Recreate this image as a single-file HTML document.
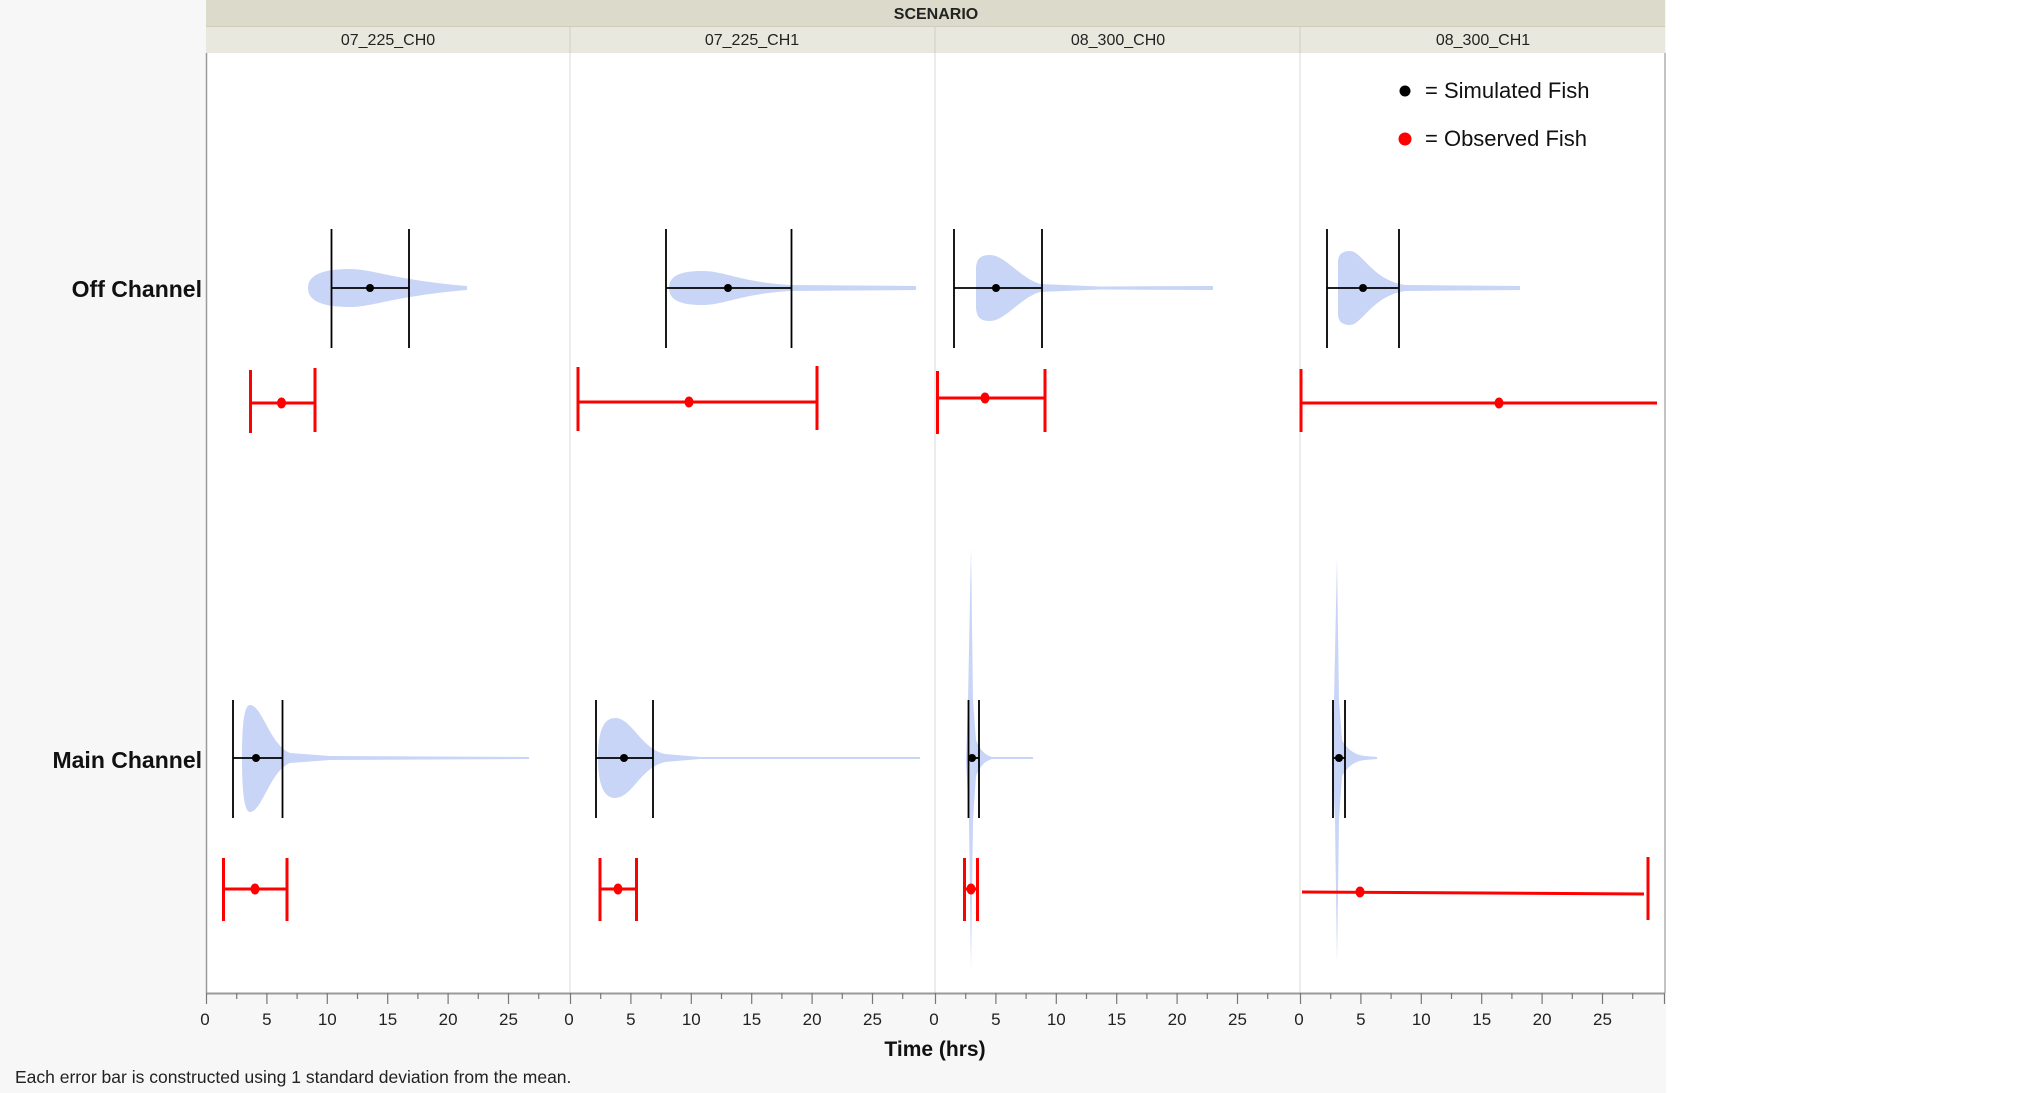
<!DOCTYPE html>
<html><head><meta charset="utf-8"><style>
html,body{margin:0;padding:0;background:#fff;}
svg{display:block;}
text{font-family:"Liberation Sans",sans-serif;}
</style></head><body>
<svg width="2029" height="1093" viewBox="0 0 2029 1093" xmlns="http://www.w3.org/2000/svg">
<rect x="0" y="0" width="1666" height="1093" fill="#f7f7f7"/>
<rect x="1666" y="0" width="363" height="1093" fill="#ffffff"/>
<rect x="206" y="0" width="1459" height="26" fill="#dcdacb"/>
<rect x="206" y="26" width="1459" height="27" fill="#e9e8de"/>
<line x1="206" y1="26.5" x2="1665" y2="26.5" stroke="#cfcdbf" stroke-width="1"/>
<line x1="570" y1="26" x2="570" y2="53" stroke="#d0cec2"/>
<line x1="935" y1="26" x2="935" y2="53" stroke="#d0cec2"/>
<line x1="1300" y1="26" x2="1300" y2="53" stroke="#d0cec2"/>
<text x="936" y="19" font-size="16" font-weight="bold" text-anchor="middle" fill="#222">SCENARIO</text>
<text x="388" y="45" font-size="16" text-anchor="middle" fill="#222">07_225_CH0</text>
<text x="752" y="45" font-size="16" text-anchor="middle" fill="#222">07_225_CH1</text>
<text x="1118" y="45" font-size="16" text-anchor="middle" fill="#222">08_300_CH0</text>
<text x="1483" y="45" font-size="16" text-anchor="middle" fill="#222">08_300_CH1</text>
<rect x="206" y="53" width="1459" height="940" fill="#ffffff"/>
<line x1="206.5" y1="53" x2="206.5" y2="993" stroke="#9a9a9a" stroke-width="1.5"/>
<line x1="1665" y1="53" x2="1665" y2="993" stroke="#b0b0b0" stroke-width="1.5"/>
<line x1="570" y1="53" x2="570" y2="993" stroke="#dadada"/>
<line x1="935" y1="53" x2="935" y2="993" stroke="#dadada"/>
<line x1="1300" y1="53" x2="1300" y2="993" stroke="#dadada"/>
<text x="202" y="297" font-size="23" font-weight="bold" text-anchor="end" fill="#111">Off Channel</text>
<text x="202" y="768" font-size="23" font-weight="bold" text-anchor="end" fill="#111">Main Channel</text>
<circle cx="1405" cy="91" r="5.5" fill="#000"/>
<text x="1425" y="98" font-size="22" fill="#111">= Simulated Fish</text>
<circle cx="1405" cy="139" r="6.5" fill="#ff0000"/>
<text x="1425" y="146" font-size="22" fill="#111">= Observed Fish</text>

<g fill="#c9d5f7">
<path d="M308,288 C308,276 320,269 350,269 C372,269 395,280 467,286 L467,290 C395,296 372,307 350,307 C320,307 308,300 308,288Z"/>
<path d="M669,288 C669,276 680,271 702,271 C725,271 740,282 790,285 L916,286 L916,290 L790,291 C740,294 725,305 702,305 C680,305 669,300 669,288Z"/>
<path d="M976,270 C976,258 981,255 990,255 C1005,255 1020,278 1040,284 L1100,286.5 L1213,286 L1213,290 L1100,289.5 L1040,292 C1020,298 1005,321 990,321 C981,321 976,318 976,306Z"/>
<path d="M1338,262 C1338,254 1343,251 1350,251 C1362,251 1372,280 1405,285 L1520,286 L1520,290 L1405,291 C1372,296 1362,325 1350,325 C1343,325 1338,322 1338,314Z"/>
<path d="M242,758 C242,725 244,705 250,705 C262,705 270,745 290,753 L330,756 L529,757 L529,759 L330,760 L290,763 C270,771 262,812 250,812 C244,812 242,790 242,758Z"/>
<path d="M598,758 C598,735 602,718 615,718 C632,718 640,748 665,754 L700,757 L920,757 L920,759 L700,759 L665,762 C640,768 632,798 615,798 C602,798 598,780 598,758Z"/>
<path d="M971,547 L973,700 L976,740 C980,750 985,755 992,757 L1033,757 L1033,759 L992,759 C985,761 980,766 976,776 L973,820 L971,971 L969,820 L966,760 L968,700Z"/>
<path d="M1337,558 L1339,700 L1342,740 C1348,750 1355,755 1365,756 L1377,757 L1377,759 L1365,760 C1355,761 1348,766 1342,776 L1339,820 L1337,963 L1335,820 L1332,760 L1334,700Z"/>
</g>

<g stroke="#000" stroke-width="1.8">
<line x1="331.5" y1="229" x2="331.5" y2="348"/><line x1="409" y1="229" x2="409" y2="348"/><line x1="331.5" y1="288" x2="409" y2="288"/>
<line x1="666" y1="229" x2="666" y2="348"/><line x1="791.5" y1="229" x2="791.5" y2="348"/><line x1="666" y1="288" x2="791.5" y2="288"/>
<line x1="954" y1="229" x2="954" y2="348"/><line x1="1042" y1="229" x2="1042" y2="348"/><line x1="954" y1="288" x2="1042" y2="288"/>
<line x1="1327" y1="229" x2="1327" y2="348"/><line x1="1399" y1="229" x2="1399" y2="348"/><line x1="1327" y1="288" x2="1399" y2="288"/>
<line x1="233" y1="700" x2="233" y2="818"/><line x1="282.5" y1="700" x2="282.5" y2="818"/><line x1="233" y1="758" x2="282.5" y2="758"/>
<line x1="596" y1="700" x2="596" y2="818"/><line x1="653" y1="700" x2="653" y2="818"/><line x1="596" y1="758" x2="653" y2="758"/>
<line x1="968.5" y1="700" x2="968.5" y2="818"/><line x1="979" y1="700" x2="979" y2="818"/><line x1="968.5" y1="758" x2="979" y2="758"/>
<line x1="1333" y1="700" x2="1333" y2="818"/><line x1="1345" y1="700" x2="1345" y2="818"/><line x1="1333" y1="758" x2="1345" y2="758"/>
</g>
<g fill="#000">
<circle cx="370" cy="288" r="4"/><circle cx="728" cy="288" r="4"/><circle cx="996" cy="288" r="4"/><circle cx="1363" cy="288" r="4"/>
<circle cx="256" cy="758" r="4"/><circle cx="624" cy="758" r="4"/><circle cx="972" cy="758" r="4"/><circle cx="1339" cy="758" r="4"/>
</g>

<g stroke="#ff0000" stroke-width="3">
<line x1="250.5" y1="370" x2="250.5" y2="433"/><line x1="315" y1="368" x2="315" y2="432"/><line x1="250.5" y1="403" x2="315" y2="403"/>
<line x1="578" y1="367" x2="578" y2="431"/><line x1="817" y1="366" x2="817" y2="430"/><line x1="578" y1="402" x2="817" y2="402"/>
<line x1="937.5" y1="371" x2="937.5" y2="434"/><line x1="1045" y1="369" x2="1045" y2="432"/><line x1="937.5" y1="398" x2="1045" y2="398"/>
<line x1="1301" y1="369" x2="1301" y2="432"/><line x1="1301" y1="403" x2="1657" y2="403"/>
<line x1="223.5" y1="858" x2="223.5" y2="921"/><line x1="287" y1="858" x2="287" y2="921"/><line x1="223.5" y1="889" x2="287" y2="889"/>
<line x1="600" y1="858" x2="600" y2="921"/><line x1="636.5" y1="858" x2="636.5" y2="921"/><line x1="600" y1="889" x2="636.5" y2="889"/>
<line x1="964.5" y1="858" x2="964.5" y2="921"/><line x1="977.5" y1="858" x2="977.5" y2="921"/><line x1="964.5" y1="889" x2="977.5" y2="889"/>
<line x1="1648" y1="857" x2="1648" y2="920"/><line x1="1302" y1="892" x2="1644" y2="894"/>
</g>
<g fill="#ff0000">
<ellipse cx="281.5" cy="403" rx="4.5" ry="5.5"/><ellipse cx="689" cy="402" rx="4.5" ry="5.5"/><ellipse cx="985" cy="398" rx="4.5" ry="5.5"/><ellipse cx="1499" cy="403" rx="4.5" ry="5.5"/>
<ellipse cx="255" cy="889" rx="4.5" ry="5.5"/><ellipse cx="618" cy="889" rx="4.5" ry="5.5"/><ellipse cx="971" cy="889" rx="4.5" ry="5.5"/><ellipse cx="1360" cy="892" rx="4.5" ry="5.5"/>
</g>

<line x1="206" y1="993.5" x2="1665" y2="993.5" stroke="#9a9a9a" stroke-width="2"/>
<g stroke="#777" stroke-width="1.2">
<line x1="206.5" y1="993" x2="206.5" y2="1004"/><line x1="266.9" y1="993" x2="266.9" y2="1004"/><line x1="327.3" y1="993" x2="327.3" y2="1004"/><line x1="387.7" y1="993" x2="387.7" y2="1004"/><line x1="448.1" y1="993" x2="448.1" y2="1004"/><line x1="508.5" y1="993" x2="508.5" y2="1004"/>
<line x1="236.7" y1="993" x2="236.7" y2="999"/><line x1="297.1" y1="993" x2="297.1" y2="999"/><line x1="357.5" y1="993" x2="357.5" y2="999"/><line x1="417.9" y1="993" x2="417.9" y2="999"/><line x1="478.3" y1="993" x2="478.3" y2="999"/><line x1="538.7" y1="993" x2="538.7" y2="999"/>
<line x1="570.5" y1="993" x2="570.5" y2="1004"/><line x1="630.9" y1="993" x2="630.9" y2="1004"/><line x1="691.3" y1="993" x2="691.3" y2="1004"/><line x1="751.7" y1="993" x2="751.7" y2="1004"/><line x1="812.1" y1="993" x2="812.1" y2="1004"/><line x1="872.5" y1="993" x2="872.5" y2="1004"/>
<line x1="600.7" y1="993" x2="600.7" y2="999"/><line x1="661.1" y1="993" x2="661.1" y2="999"/><line x1="721.5" y1="993" x2="721.5" y2="999"/><line x1="781.9" y1="993" x2="781.9" y2="999"/><line x1="842.3" y1="993" x2="842.3" y2="999"/><line x1="902.7" y1="993" x2="902.7" y2="999"/>
<line x1="935.5" y1="993" x2="935.5" y2="1004"/><line x1="995.9" y1="993" x2="995.9" y2="1004"/><line x1="1056.3" y1="993" x2="1056.3" y2="1004"/><line x1="1116.7" y1="993" x2="1116.7" y2="1004"/><line x1="1177.1" y1="993" x2="1177.1" y2="1004"/><line x1="1237.5" y1="993" x2="1237.5" y2="1004"/>
<line x1="965.7" y1="993" x2="965.7" y2="999"/><line x1="1026.1" y1="993" x2="1026.1" y2="999"/><line x1="1086.5" y1="993" x2="1086.5" y2="999"/><line x1="1146.9" y1="993" x2="1146.9" y2="999"/><line x1="1207.3" y1="993" x2="1207.3" y2="999"/><line x1="1267.7" y1="993" x2="1267.7" y2="999"/>
<line x1="1300.5" y1="993" x2="1300.5" y2="1004"/><line x1="1360.9" y1="993" x2="1360.9" y2="1004"/><line x1="1421.3" y1="993" x2="1421.3" y2="1004"/><line x1="1481.7" y1="993" x2="1481.7" y2="1004"/><line x1="1542.1" y1="993" x2="1542.1" y2="1004"/><line x1="1602.5" y1="993" x2="1602.5" y2="1004"/>
<line x1="1330.7" y1="993" x2="1330.7" y2="999"/><line x1="1391.1" y1="993" x2="1391.1" y2="999"/><line x1="1451.5" y1="993" x2="1451.5" y2="999"/><line x1="1511.9" y1="993" x2="1511.9" y2="999"/><line x1="1572.3" y1="993" x2="1572.3" y2="999"/><line x1="1632.7" y1="993" x2="1632.7" y2="999"/>
<line x1="1664.5" y1="993" x2="1664.5" y2="1004"/>
</g>
<g font-size="17" fill="#222" text-anchor="middle">
<text x="205" y="1025">0</text><text x="266.9" y="1025">5</text><text x="327.3" y="1025">10</text><text x="387.7" y="1025">15</text><text x="448.1" y="1025">20</text><text x="508.5" y="1025">25</text>
<text x="569" y="1025">0</text><text x="630.9" y="1025">5</text><text x="691.3" y="1025">10</text><text x="751.7" y="1025">15</text><text x="812.1" y="1025">20</text><text x="872.5" y="1025">25</text>
<text x="934" y="1025">0</text><text x="995.9" y="1025">5</text><text x="1056.3" y="1025">10</text><text x="1116.7" y="1025">15</text><text x="1177.1" y="1025">20</text><text x="1237.5" y="1025">25</text>
<text x="1299" y="1025">0</text><text x="1360.9" y="1025">5</text><text x="1421.3" y="1025">10</text><text x="1481.7" y="1025">15</text><text x="1542.1" y="1025">20</text><text x="1602.5" y="1025">25</text>
</g>
<text x="935" y="1056" font-size="21" font-weight="bold" text-anchor="middle" fill="#111">Time (hrs)</text>
<text x="15" y="1083" font-size="17.5" fill="#222">Each error bar is constructed using 1 standard deviation from the mean.</text>
</svg>
</body></html>
